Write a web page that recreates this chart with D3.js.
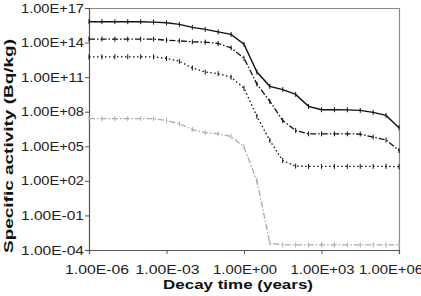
<!DOCTYPE html>
<html>
<head>
<meta charset="utf-8">
<script src="https://cdn.jsdelivr.net/npm/d3@7"></script>
<style>
  html, body { margin: 0; padding: 0; background: #fff; }
  svg { display: block; }
  text { font-family: "Liberation Sans", Arial, sans-serif; }
</style>
</head>
<body>
<svg id="chart" width="421" height="296"></svg>
<script>
// Decay time (years), every half decade from 1E-06 to 1E+06
const decayTimes = [1e-6, 3.16e-6, 1e-5, 3.16e-5, 1e-4, 3.16e-4, 1e-3, 3.16e-3, 1e-2, 3.16e-2, 1e-1, 3.16e-1,
                    1, 3.16, 10, 31.6, 100, 316, 1e3, 3.16e3, 1e4, 3.16e4, 1e5, 3.16e5, 1e6];

// Specific activity (Bq/kg)
const seriesSolid   = [6.5e15, 6.5e15, 6.5e15, 6.5e15, 6.5e15, 6.0e15, 5.2e15, 3.8e15, 2.1e15, 1.4e15, 8.5e14, 5.1e14,
                       7.2e13, 2.8e11, 1.6e10, 8.3e9, 3.2e9, 2.9e8, 1.5e8, 1.5e8, 1.45e8, 1.3e8, 8.7e7, 4.8e7, 4.1e6];
const seriesDashDot = [2.0e14, 2.0e14, 2.0e14, 2.0e14, 2.0e14, 2.0e14, 1.6e14, 1.4e14, 1.15e14, 1.1e14, 8.3e13, 3.5e13,
                       4.4e12, 2.5e10, 8.0e8, 1.7e7, 2.3e6, 1.2e6, 1.2e6, 1.2e6, 1.2e6, 1.15e6, 6.3e5, 3.5e5, 4.3e4];
const seriesDotted  = [5.8e12, 5.8e12, 5.8e12, 5.8e12, 5.8e12, 5.8e12, 4.2e12, 2.4e12, 6.3e11, 2.8e11, 2.0e11, 1.0e11,
                       1.1e10, 4.0e7, 3.2e5, 5.8e3, 1.9e3, 1.8e3, 1.8e3, 1.8e3, 1.8e3, 1.8e3, 1.8e3, 1.8e3, 1.7e3];
const seriesGray    = [2.5e7, 2.5e7, 2.5e7, 2.5e7, 2.5e7, 2.5e7, 1.7e7, 8.9e6, 2.9e6, 1.5e6, 1.2e6, 7.1e5,
                       8.9e4, 1.0e2, 4.0e-4, 2.75e-4, 2.75e-4, 2.75e-4, 2.75e-4, 2.75e-4, 2.75e-4, 2.75e-4, 2.75e-4, 2.75e-4, 2.75e-4];

const xTickValues = [1e-6, 1e-3, 1, 1e3, 1e6];
const xTickLabels = ["1.00E-06", "1.00E-03", "1.00E+00", "1.00E+03", "1.00E+06"];
const yTickValues = [1e17, 1e14, 1e11, 1e8, 1e5, 1e2, 1e-1, 1e-4];
const yTickLabels = ["1.00E+17", "1.00E+14", "1.00E+11", "1.00E+08", "1.00E+05", "1.00E+02", "1.00E-01", "1.00E-04"];

const xTitle = "Decay time (years)";
const yTitle = "Specific activity (Bq/kg)";

const series = [
  { values: seriesSolid,   color: "#111", dash: null,          width: 1.4 },
  { values: seriesDashDot, color: "#111", dash: "6,2,1.5,2",   width: 1.3 },
  { values: seriesDotted,  color: "#111", dash: "1.5,2.5",     width: 1.3 },
  { values: seriesGray,    color: "#aaa", dash: "6,2,1.5,2",   width: 1.3 }
];

const svg = d3.select("#chart");
const plotLeft = 89, plotRight = 399, plotTop = 8, plotBottom = 250;

const x = d3.scaleLog().domain([1e-6, 1e6]).range([plotLeft, plotRight]);
const y = d3.scaleLog().domain([1e-4, 1e17]).range([plotBottom, plotTop]);

// Plot frame (top / right)
svg.append("line").attr("x1", plotLeft).attr("x2", plotRight).attr("y1", plotTop + 0.5).attr("y2", plotTop + 0.5)
  .attr("stroke", "#8a8a8a").attr("stroke-width", 1);
svg.append("line").attr("x1", plotRight + 0.5).attr("x2", plotRight + 0.5).attr("y1", plotTop).attr("y2", plotBottom)
  .attr("stroke", "#8a8a8a").attr("stroke-width", 1.2);

// Axes
const xAxis = d3.axisBottom(x).tickValues(xTickValues).tickFormat(() => "").tickSizeOuter(0).tickSize(4);
const gx = svg.append("g").attr("transform", `translate(0,${plotBottom})`).call(xAxis);
const yAxis = d3.axisLeft(y).tickValues(yTickValues).tickFormat(() => "").tickSizeOuter(0).tickSize(4);
const gy = svg.append("g").attr("transform", `translate(${plotLeft},0)`).call(yAxis);
[gx, gy].forEach(g => {
  g.select(".domain").attr("stroke", "#555").attr("stroke-width", 1.2);
  g.selectAll(".tick line").attr("stroke", "#555");
});

// Tick labels (stretched horizontally like the reference)
yTickValues.forEach((v, i) => {
  svg.append("text")
    .attr("x", plotLeft - 5).attr("y", y(v)).attr("dy", "0.36em")
    .attr("text-anchor", "end")
    .attr("font-size", 12.5).attr("fill", "#222")
    .attr("textLength", 63).attr("lengthAdjust", "spacingAndGlyphs")
    .text(yTickLabels[i]);
});
xTickValues.forEach((v, i) => {
  const cx = Math.max(97, Math.min(391, x(v) + 1));
  svg.append("text")
    .attr("x", cx).attr("y", 274)
    .attr("text-anchor", "middle")
    .attr("font-size", 12.5).attr("fill", "#222")
    .attr("textLength", 64).attr("lengthAdjust", "spacingAndGlyphs")
    .text(xTickLabels[i]);
});

// Titles
svg.append("text")
  .attr("x", 238).attr("y", 289).attr("text-anchor", "middle")
  .attr("font-size", 13.5).attr("font-weight", "bold").attr("fill", "#111")
  .attr("textLength", 150).attr("lengthAdjust", "spacingAndGlyphs")
  .text(xTitle);
svg.append("text")
  .attr("transform", "translate(13,146) rotate(-90)")
  .attr("text-anchor", "middle")
  .attr("font-size", 13.5).attr("font-weight", "bold").attr("fill", "#111")
  .attr("textLength", 214).attr("lengthAdjust", "spacingAndGlyphs")
  .text(yTitle);

// Series lines and markers
const line = d3.line().x((d, i) => x(decayTimes[i])).y(d => y(d));
series.forEach(s => {
  svg.append("path")
    .datum(s.values)
    .attr("d", line)
    .attr("fill", "none")
    .attr("stroke", s.color)
    .attr("stroke-width", s.width)
    .attr("stroke-dasharray", s.dash);
  svg.append("g").selectAll("line")
    .data(s.values)
    .join("line")
    .attr("x1", (d, i) => x(decayTimes[i])).attr("x2", (d, i) => x(decayTimes[i]))
    .attr("y1", d => y(d) - 2.5).attr("y2", d => y(d) + 2.5)
    .attr("stroke", s.color).attr("stroke-width", 1);
});
</script>
</body>
</html>
